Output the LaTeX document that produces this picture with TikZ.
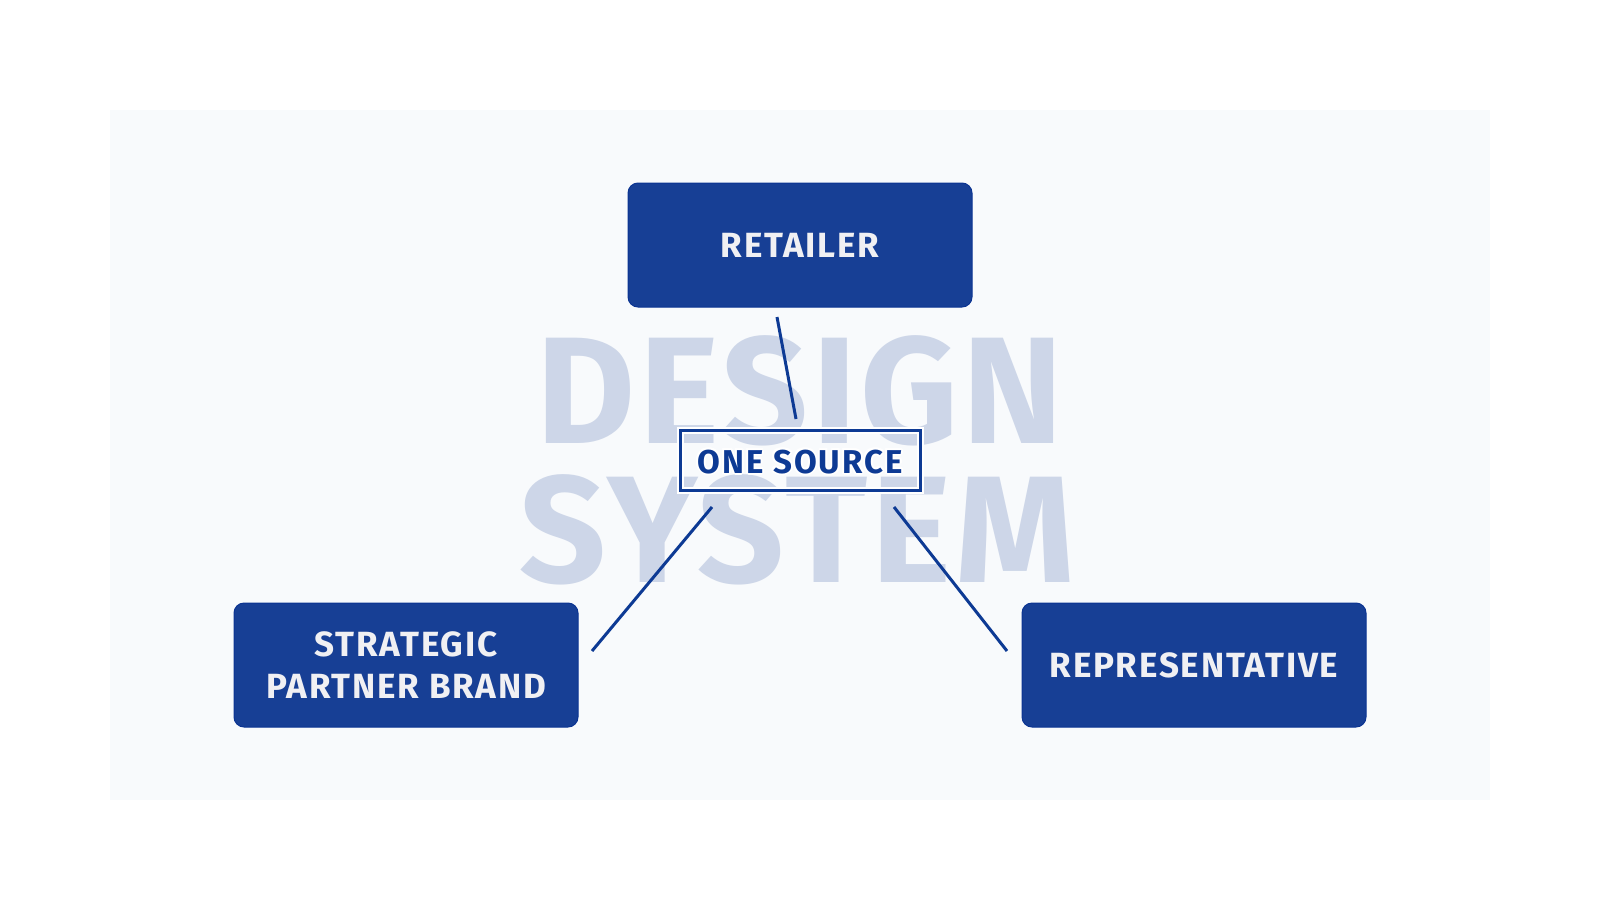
\documentclass[tikz,border=0pt]{standalone}
\usepackage{fontspec}
\setmainfont{Fira Sans}
\usepackage[copies]{contour}
\newfontfamily\boxfont[LetterSpace=5]{Fira Sans}
\newfontfamily\hubfont[LetterSpace=6]{Fira Sans}
\newfontfamily\wmfont[LetterSpace=2.5]{Fira Sans}
\definecolor{panelbg}{HTML}{F8FAFC}
\definecolor{boxblue}{HTML}{173F95}
\definecolor{boxedge}{HTML}{0B3492}
\definecolor{boxtext}{HTML}{F0F0F3}
\definecolor{linkblue}{HTML}{0D3A94}
\definecolor{wmark}{HTML}{CDD6E8}
\tikzset{
  x=1pt,y=-1pt,
  rolebox/.style={draw=boxedge, line width=1pt, fill=boxblue, rounded corners=10pt,
    minimum width=344pt, minimum height=124pt, text=boxtext, align=center,
    font=\boxfont\fontsize{35}{42}\selectfont\bfseries},
  link/.style={draw=linkblue, line width=3pt},
  watermark/.style={text=wmark, inner sep=0pt, font=\wmfont\fontsize{152}{150}\selectfont\bfseries},
}
\begin{document}
\begin{tikzpicture}
\useasboundingbox (0,0) rectangle (1600,910);
\fill[white] (0,0) rectangle (1600,910);
\fill[panelbg] (110,110) rectangle (1490,800);
% watermark
\node[watermark, anchor=base] (wm1) at (800,443) {DESIGN};
\node[watermark, anchor=base] (wm2) at (797,582) {SYSTEM};
% role boxes
\node[rolebox] (retailer) at (800,245) {RETAILER};
\node[rolebox] (partner) at (406,665) {STRATEGIC\\PARTNER BRAND};
\node[rolebox] (rep) at (1194,665) {REPRESENTATIVE};
% hub
\draw[white, line width=7pt] (680,430) rectangle (920,490);
\node[draw=linkblue, line width=3pt, minimum width=240pt, minimum height=60pt, inner sep=0pt] (hub) at (800,460) {};
\node[text=linkblue, font=\hubfont\fontsize{33}{40}\selectfont\bfseries, anchor=base] (hubtext) at (800,473) {\contourlength{2pt}\contour{white}{ONE SOURCE}};
% connectors
\coordinate (t1) at (777,317);
\coordinate (t2) at (796,419);
\coordinate (l1) at (712,507);
\coordinate (l2) at (592,651);
\coordinate (r1) at (894,507);
\coordinate (r2) at (1007,651);
\draw[link] (t1) -- (t2);
\draw[link] (l1) -- (l2);
\draw[link] (r1) -- (r2);
\end{tikzpicture}
\end{document}
